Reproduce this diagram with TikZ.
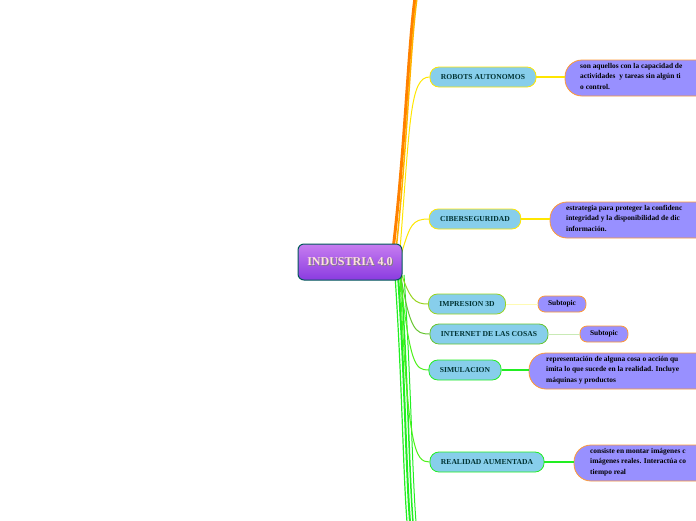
\documentclass[tikz,border=0pt]{standalone}
\usepackage{fontspec}
\setmainfont{Liberation Serif}
\begin{document}
\begin{tikzpicture}[x=1pt,y=-1pt,
  topic/.style={draw=#1,line width=0.8pt,fill=topicblue,rounded corners=9pt,minimum height=20pt,inner xsep=11pt,font=\bfseries\fontsize{7.6}{8}\selectfont,text=teal!40!black},
  descbox/.style={draw=orange!80,line width=0.8pt,fill=descblue,rounded corners=17pt},
  desctext/.style={anchor=north west,align=left,font=\bfseries\fontsize{7.4}{10.5}\selectfont,inner sep=0pt},
  sub/.style={draw=orange!80,line width=0.8pt,fill=descblue,rounded corners=7pt,minimum height=16pt,inner xsep=10pt,font=\bfseries\fontsize{7.4}{8}\selectfont}]
\definecolor{topicblue}{HTML}{87CEEB}
\definecolor{descblue}{HTML}{9890FF}
\definecolor{ylw}{HTML}{FFE600}
\definecolor{grn}{HTML}{22EE22}
\definecolor{rootA}{HTML}{C77DF0}
\definecolor{rootB}{HTML}{8A3BE0}
\useasboundingbox (0,0) rectangle (696,520);
\clip (0,0) rectangle (696,520);
% trunk lines
\coordinate (rt) at (393,250);
\coordinate (top) at (415,-2);
\coordinate (bot) at (413,522);
\draw[orange,line width=3pt] (rt) .. controls (405,150) and (408,50) .. (top);
\draw[orange!60!yellow,line width=1.5pt] (396,250) .. controls (407,150) and (410,50) .. (417,-2);
\foreach \dx/\w in {0/2pt,3/1.5pt,6/1pt,-3/1.2pt}
  \draw[grn,line width=\w] (398+\dx,275) .. controls (405+\dx,380) and (406+\dx,470) .. (410+\dx,522);
% topics
\node[topic=ylw] (robots) at (483,77) {ROBOTS AUTONOMOS};
\node[topic=ylw] (ciber) at (475,219) {CIBERSEGURIDAD};
\node[topic=yellow!60!green] (imp) at (467,304) {IMPRESION 3D};
\node[topic=yellow!40!green] (iot) at (489,334) {INTERNET DE LAS COSAS};
\node[topic=grn] (sim) at (465,370) {SIMULACION};
\node[topic=grn] (ra) at (487,462) {REALIDAD AUMENTADA};
% branches
\draw[ylw,line width=1pt] (400,250) .. controls (410,120) and (410,77) .. (robots.west);
\draw[ylw,line width=1pt] (401,255) .. controls (410,225) and (412,219) .. (ciber.west);
\draw[yellow!60!green,line width=1pt] (400,270) .. controls (410,300) and (415,304) .. (imp.west);
\draw[yellow!40!green,line width=1pt] (400,272) .. controls (410,330) and (415,334) .. (iot.west);
\draw[grn!80!yellow,line width=1pt] (400,274) .. controls (410,365) and (415,370) .. (sim.west);
\draw[grn!80!yellow,line width=1pt] (400,276) .. controls (408,450) and (415,462) .. (ra.west);
% root
\node[draw=teal!70!black,line width=1pt,top color=rootA,bottom color=rootB,rounded corners=6pt,minimum width=104pt,minimum height=36pt] (root) at (350,262) {};
\node[font=\bfseries\fontsize{12}{14}\selectfont,text=black!50] at (351,263) {INDUSTRIA 4.0};
\node[font=\bfseries\fontsize{12}{14}\selectfont,text=pink!50] (roottxt) at (root) {INDUSTRIA 4.0};
% descriptions
\draw[descbox] (565,60) rectangle (760,96);
\node[desctext] (t1) at (580,63) {son aquellos con la capacidad de\\actividades\ \ y tareas sin algún ti\\o control.};
\draw[ylw,line width=2pt] (robots.east) -- (565,77);
\draw[descbox] (550,202) rectangle (760,238);
\node[desctext] (t2) at (566,205) {estrategia para proteger la confidenc\\integridad y la disponibilidad de dic\\información.};
\draw[ylw,line width=2pt] (ciber.east) -- (550,219);
\node[sub] (s1) at (562,304) {Subtopic};
\draw[yellow!30,line width=1pt] (imp.east) -- (s1.west);
\node[sub] (s2) at (604,334) {Subtopic};
\draw[yellow!30!green!30,line width=1pt] (iot.east) -- (s2.west);
\draw[descbox] (529,353) rectangle (760,389);
\node[desctext] (t3) at (546,356) {representación de alguna cosa o acción qu\\imita lo que sucede en la realidad. Incluye\\máquinas y productos};
\draw[grn,line width=2pt] (sim.east) -- (529,370);
\draw[descbox] (574,445) rectangle (760,481);
\node[desctext] (t4) at (590,448) {consiste en montar imágenes c\\imágenes reales. Interactúa co\\tiempo real};
\draw[grn,line width=2pt] (ra.east) -- (574,462);
\end{tikzpicture}
\end{document}
